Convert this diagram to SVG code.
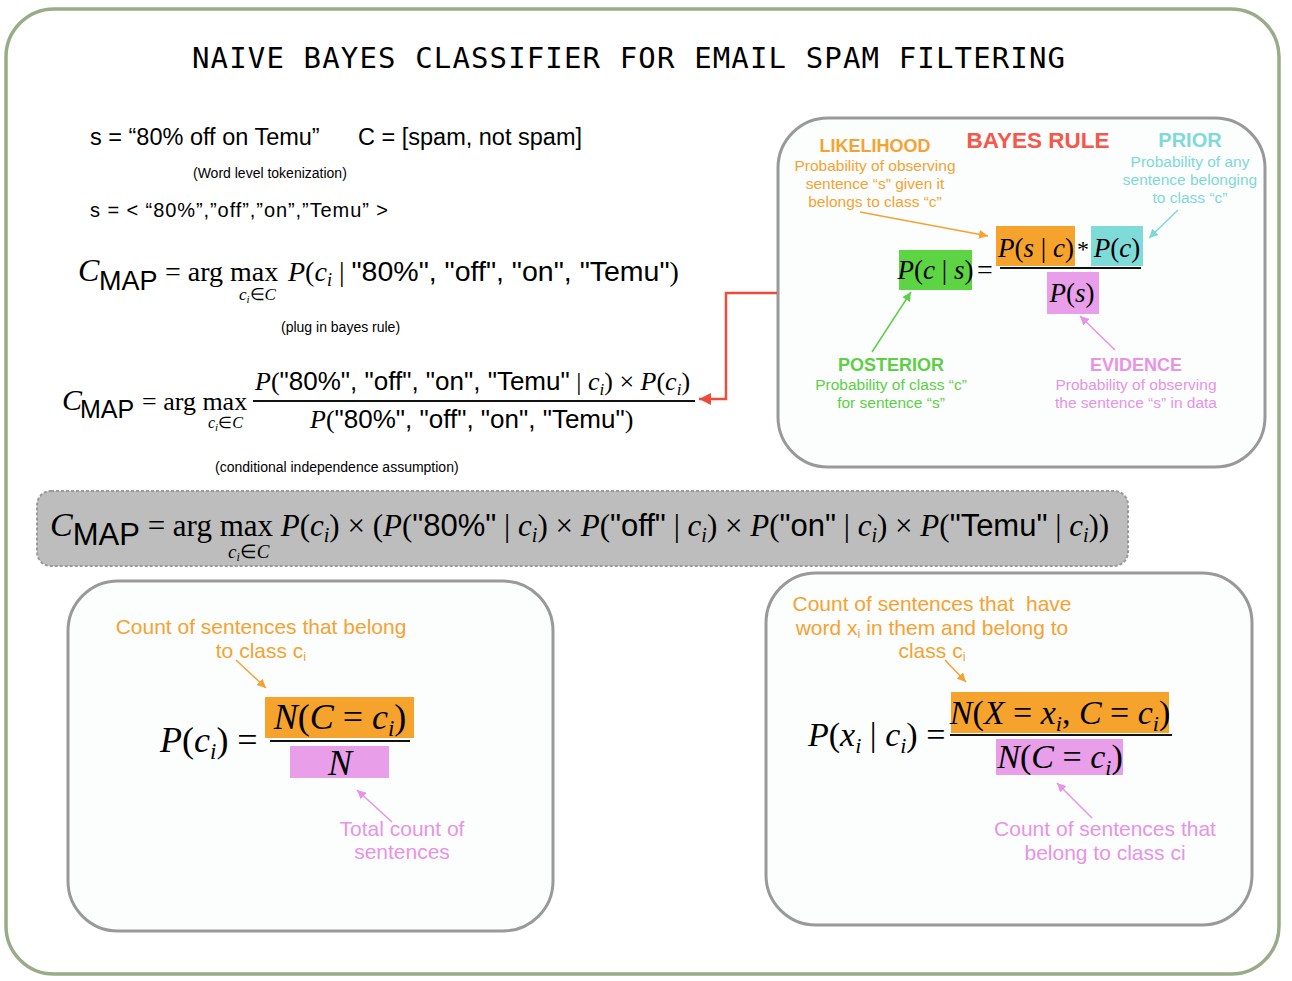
<svg xmlns="http://www.w3.org/2000/svg" width="1292" height="981" viewBox="0 0 1292 981">
<defs>
<style>
.sf{font-family:"Liberation Sans",Arial,sans-serif}
.mr{font-family:"Liberation Serif","Times New Roman",serif}
.i{font-style:italic}
.pre{white-space:pre}
.box{fill:#fcfdfd;stroke:#999;stroke-width:3}
.ora{fill:#f6a32e}
.pnk{fill:#e89ee8}
.tea{fill:#7fdbd8}
.grn{fill:#5dd444}
.ot{fill:#f6a232}
.pt{fill:#e793e6}
.tt{fill:#7fd9d6}
.gt{fill:#5ccf45}
.fl{stroke:#111;stroke-width:2}
</style>
<marker id="aO" viewBox="0 0 10 10" refX="10" refY="5" markerWidth="9" markerHeight="9" markerUnits="userSpaceOnUse" orient="auto"><path d="M0,0 L10,5 L0,10 z" fill="#f6a232"/></marker>
<marker id="aP" viewBox="0 0 10 10" refX="10" refY="5" markerWidth="9" markerHeight="9" markerUnits="userSpaceOnUse" orient="auto"><path d="M0,0 L10,5 L0,10 z" fill="#e793e6"/></marker>
<marker id="aT" viewBox="0 0 10 10" refX="10" refY="5" markerWidth="9" markerHeight="9" markerUnits="userSpaceOnUse" orient="auto"><path d="M0,0 L10,5 L0,10 z" fill="#7fd9d6"/></marker>
<marker id="aG" viewBox="0 0 10 10" refX="10" refY="5" markerWidth="9" markerHeight="9" markerUnits="userSpaceOnUse" orient="auto"><path d="M0,0 L10,5 L0,10 z" fill="#5ccf45"/></marker>
<marker id="aR" viewBox="0 0 10 10" refX="10" refY="5" markerWidth="12" markerHeight="12" markerUnits="userSpaceOnUse" orient="auto"><path d="M0,0 L10,5 L0,10 z" fill="#ef4b3b"/></marker>
</defs>
<rect width="1292" height="981" fill="#ffffff"/>
<rect x="6" y="9" width="1273" height="965" rx="48" fill="#ffffff" stroke="#9aab88" stroke-width="3.5"/>

<text x="192" y="68" font-family="DejaVu Sans Mono,monospace" font-size="29" textLength="873" lengthAdjust="spacing">NAIVE BAYES CLASSIFIER FOR EMAIL SPAM FILTERING</text>

<g id="intro" class="sf">
<text x="90" y="145" font-size="23.5">s = “80% off on Temu”</text>
<text x="358" y="145" font-size="23.5">C = [spam, not spam]</text>
<text x="193" y="178" font-size="14">(Word level tokenization)</text>
<text x="90" y="217" font-size="20" textLength="298" lengthAdjust="spacing">s = &lt; “80%”,”off”,”on”,”Temu” &gt;</text>
</g>

<g id="cmap1">
<text class="mr i" x="78" y="281" font-size="32">C</text>
<text class="sf" x="99" y="290" font-size="27">MAP</text>
<text class="mr" x="165" y="281" font-size="28">= arg max</text>
<text class="mr" x="239" y="300" font-size="17"><tspan class="i">c</tspan><tspan class="i" font-size="11" dy="3">i</tspan><tspan dy="-3">∈</tspan><tspan class="i">C</tspan></text>
<text class="mr" x="288" y="281" font-size="28"><tspan class="i">P</tspan>(<tspan class="i">c</tspan><tspan class="i" font-size="18" dy="5">i</tspan><tspan dy="-5"> | </tspan><tspan class="sf" font-size="28.5">"80%", "off", "on", "Temu"</tspan>)</text>
<text class="sf" x="281" y="332" font-size="14">(plug in bayes rule)</text>
</g>

<g id="cmap2">
<text class="mr i" x="62" y="410" font-size="30">C</text>
<text class="sf" x="80" y="418" font-size="25">MAP</text>
<text class="mr" x="142" y="410" font-size="26">= arg max</text>
<text class="mr" x="208" y="428" font-size="16"><tspan class="i">c</tspan><tspan class="i" font-size="11" dy="3">i</tspan><tspan dy="-3">∈</tspan><tspan class="i">C</tspan></text>
<text class="mr" x="255" y="390" font-size="26"><tspan class="i">P</tspan>(<tspan class="sf">"80%", "off", "on", "Temu"</tspan> | <tspan class="i">c</tspan><tspan class="i" font-size="17" dy="5">i</tspan><tspan dy="-5">) × </tspan><tspan class="i">P</tspan>(<tspan class="i">c</tspan><tspan class="i" font-size="17" dy="5">i</tspan><tspan dy="-5">)</tspan></text>
<line class="fl" x1="253" y1="401" x2="695" y2="401"/>
<text class="mr" x="310" y="428" font-size="26"><tspan class="i">P</tspan>(<tspan class="sf">"80%", "off", "on", "Temu"</tspan>)</text>
<text class="sf" x="215" y="472" font-size="14">(conditional independence assumption)</text>
</g>

<g id="bayes-rule">
<rect class="box" x="778" y="118" width="487" height="349" rx="50"/>
<text class="sf" x="1038" y="148" font-size="22.5" font-weight="bold" fill="#f5574a" text-anchor="middle">BAYES RULE</text>
<g class="sf ot" text-anchor="middle">
<text x="875" y="152" font-size="18" font-weight="bold">LIKELIHOOD</text>
<text x="875" y="171" font-size="15.5">Probability of observing</text>
<text x="875" y="189" font-size="15.5">sentence “s” given it</text>
<text x="875" y="207" font-size="15.5">belongs to class “c”</text>
</g>
<g class="sf tt" text-anchor="middle">
<text x="1190" y="147" font-size="20" font-weight="bold">PRIOR</text>
<text x="1190" y="167" font-size="15.5">Probability of any</text>
<text x="1190" y="185" font-size="15.5">sentence belonging</text>
<text x="1190" y="203" font-size="15.5">to class “c”</text>
</g>
<g class="sf gt" text-anchor="middle">
<text x="891" y="371" font-size="18" font-weight="bold">POSTERIOR</text>
<text x="891" y="390" font-size="15.5">Probability of class “c”</text>
<text x="891" y="408" font-size="15.5">for sentence “s”</text>
</g>
<g class="sf pt" text-anchor="middle">
<text x="1136" y="371" font-size="18" font-weight="bold">EVIDENCE</text>
<text x="1136" y="390" font-size="15.5">Probability of observing</text>
<text x="1136" y="408" font-size="15.5">the sentence “s” in data</text>
</g>
<rect class="grn" x="899" y="250" width="73" height="40"/>
<rect class="ora" x="996" y="226" width="79" height="40"/>
<rect class="tea" x="1091" y="226" width="52" height="40"/>
<rect class="pnk" x="1047" y="272" width="52" height="42"/>
<text class="mr" x="935.5" y="279" font-size="27" text-anchor="middle"><tspan class="i">P</tspan>(<tspan class="i">c</tspan> | <tspan class="i">s</tspan>)</text>
<text class="mr" x="977" y="279" font-size="28">=</text>
<text class="mr" x="1036" y="257" font-size="27" text-anchor="middle"><tspan class="i">P</tspan>(<tspan class="i">s</tspan> | <tspan class="i">c</tspan>)</text>
<text class="mr" x="1077" y="257" font-size="24">*</text>
<text class="mr" x="1117" y="257" font-size="27" text-anchor="middle"><tspan class="i">P</tspan>(<tspan class="i">c</tspan>)</text>
<line class="fl" x1="1000" y1="268" x2="1141" y2="268"/>
<text class="mr" x="1072" y="302" font-size="27" text-anchor="middle"><tspan class="i">P</tspan>(<tspan class="i">s</tspan>)</text>
</g>

<g id="cmap-final">
<rect x="37" y="491" width="1091" height="75" rx="14" fill="#bdbdbd" stroke="#9a9a9a" stroke-width="2" stroke-dasharray="3,2"/>
<text class="mr" x="50" y="536" font-size="31"><tspan class="i" font-size="34">C</tspan><tspan class="sf" dy="9">MAP</tspan><tspan dy="-9"> = arg max </tspan><tspan class="i">P</tspan>(<tspan class="i">c</tspan><tspan class="i" font-size="20" dy="6">i</tspan><tspan dy="-6">) × (</tspan><tspan class="i">P</tspan>(<tspan class="sf">"80%"</tspan> | <tspan class="i">c</tspan><tspan class="i" font-size="20" dy="6">i</tspan><tspan dy="-6">) × </tspan><tspan class="i">P</tspan>(<tspan class="sf">"off"</tspan> | <tspan class="i">c</tspan><tspan class="i" font-size="20" dy="6">i</tspan><tspan dy="-6">) × </tspan><tspan class="i">P</tspan>(<tspan class="sf">"on"</tspan> | <tspan class="i">c</tspan><tspan class="i" font-size="20" dy="6">i</tspan><tspan dy="-6">) × </tspan><tspan class="i">P</tspan>(<tspan class="sf">"Temu"</tspan> | <tspan class="i">c</tspan><tspan class="i" font-size="20" dy="6">i</tspan><tspan dy="-6">))</tspan></text>
<text class="mr" x="228" y="558" font-size="19"><tspan class="i">c</tspan><tspan class="i" font-size="12" dy="3">i</tspan><tspan dy="-3">∈</tspan><tspan class="i">C</tspan></text>
</g>

<g id="prior-box">
<rect class="box" x="68" y="581" width="485" height="350" rx="50"/>
<text class="sf ot" x="261" y="634" font-size="21" text-anchor="middle">Count of sentences that belong</text>
<text class="sf ot" x="261" y="658" font-size="21" text-anchor="middle">to class c<tspan font-size="13" dy="3">i</tspan></text>
<rect class="ora" x="265" y="697" width="149" height="41"/>
<rect class="pnk" x="290" y="746" width="99" height="32"/>
<text class="mr" x="160" y="752" font-size="36"><tspan class="i">P</tspan>(<tspan class="i">c</tspan><tspan class="i" font-size="23" dy="7">i</tspan><tspan dy="-7">) =</tspan></text>
<text class="mr" x="340" y="729" font-size="36" text-anchor="middle"><tspan class="i">N</tspan>(<tspan class="i">C</tspan> = <tspan class="i">c</tspan><tspan class="i" font-size="23" dy="7">i</tspan><tspan dy="-7">)</tspan></text>
<line class="fl" x1="270" y1="741" x2="410" y2="741"/>
<text class="mr i" x="340" y="775" font-size="36" text-anchor="middle">N</text>
<text class="sf pt" x="402" y="836" font-size="21" text-anchor="middle">Total count of</text>
<text class="sf pt" x="402" y="859" font-size="21" text-anchor="middle">sentences</text>
</g>

<g id="likelihood-box">
<rect class="box" x="766" y="573" width="486" height="352" rx="50"/>
<text class="sf ot pre" x="932" y="611" font-size="21" text-anchor="middle">Count of sentences that  have</text>
<text class="sf ot" x="932" y="635" font-size="21" text-anchor="middle">word x<tspan font-size="13" dy="3">i</tspan><tspan dy="-3"> in them and belong to</tspan></text>
<text class="sf ot" x="932" y="658" font-size="21" text-anchor="middle">class c<tspan font-size="13" dy="3">i</tspan></text>
<rect class="ora" x="951" y="692" width="218" height="41"/>
<rect class="pnk" x="996" y="739" width="127" height="36"/>
<text class="mr" x="808" y="746" font-size="34"><tspan class="i">P</tspan>(<tspan class="i">x</tspan><tspan class="i" font-size="22" dy="7">i</tspan><tspan dy="-7"> | </tspan><tspan class="i">c</tspan><tspan class="i" font-size="22" dy="7">i</tspan><tspan dy="-7">) =</tspan></text>
<text class="mr" x="1060" y="724" font-size="34" text-anchor="middle"><tspan class="i">N</tspan>(<tspan class="i">X</tspan> = <tspan class="i">x</tspan><tspan class="i" font-size="22" dy="7">i</tspan><tspan dy="-7">, </tspan><tspan class="i">C</tspan> = <tspan class="i">c</tspan><tspan class="i" font-size="22" dy="7">i</tspan><tspan dy="-7">)</tspan></text>
<line class="fl" x1="950" y1="735" x2="1172" y2="735"/>
<text class="mr" x="1060" y="768" font-size="34" text-anchor="middle"><tspan class="i">N</tspan>(<tspan class="i">C</tspan> = <tspan class="i">c</tspan><tspan class="i" font-size="22" dy="7">i</tspan><tspan dy="-7">)</tspan></text>
<text class="sf pt" x="1105" y="836" font-size="21" text-anchor="middle">Count of sentences that</text>
<text class="sf pt" x="1105" y="860" font-size="21" text-anchor="middle">belong to class ci</text>
</g>

<g id="connectors" fill="none" stroke-width="1.5">
<path d="M777,293 H726 V399 H699" stroke="#ef4b3b" stroke-width="2.5" marker-end="url(#aR)"/>
<line x1="860" y1="212" x2="988" y2="236" stroke="#f6a232" marker-end="url(#aO)"/>
<line x1="1178" y1="210" x2="1149" y2="238" stroke="#7fd9d6" marker-end="url(#aT)"/>
<line x1="872" y1="352" x2="911" y2="292" stroke="#5ccf45" marker-end="url(#aG)"/>
<line x1="1115" y1="350" x2="1080" y2="316" stroke="#e793e6" marker-end="url(#aP)"/>
<line x1="236" y1="660" x2="266" y2="688" stroke="#f6a232" marker-end="url(#aO)"/>
<line x1="392" y1="822" x2="357" y2="790" stroke="#e793e6" marker-end="url(#aP)"/>
<line x1="945" y1="660" x2="966" y2="682" stroke="#f6a232" marker-end="url(#aO)"/>
<line x1="1092" y1="818" x2="1057" y2="783" stroke="#e793e6" marker-end="url(#aP)"/>
</g>
</svg>
